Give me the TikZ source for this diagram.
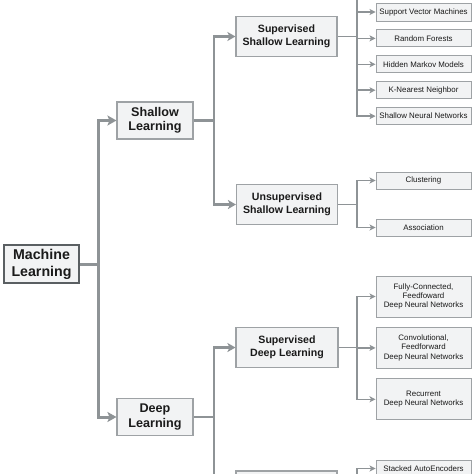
\documentclass[tikz,border=0pt]{standalone}
\usepackage{fontspec}
\setmainfont{Liberation Sans}
\usetikzlibrary{arrows.meta,positioning}
\definecolor{ln}{HTML}{8E9396}
\definecolor{bx}{HTML}{F2F3F4}
\definecolor{bd}{HTML}{9EA2A5}
\definecolor{dk}{HTML}{5A5F62}
\definecolor{tx}{HTML}{1A1A1A}
\tikzset{
  box/.style={draw=bd,line width=1.1pt,fill=bx,align=center,inner sep=0pt,text=tx},
  mbox/.style={box,draw=dk,line width=1.8pt,minimum width=75pt,minimum height=38pt,font=\fontsize{14.2}{17}\selectfont\bfseries},
  cbox/.style={box,minimum width=76pt,minimum height=37pt,font=\fontsize{12.6}{14.5}\selectfont\bfseries},
  sbox/.style={box,minimum width=101pt,minimum height=40pt,font=\fontsize{10.6}{12.8}\selectfont\bfseries},
  leaf/.style={box,line width=0.9pt,minimum width=95pt,minimum height=17pt,font=\fontsize{7.9}{9.3}\selectfont},
  tall/.style={leaf,minimum height=41pt},
  mainar/.style={line width=3pt,draw=ln,-{Stealth[length=9pt,width=10pt,inset=2pt]}},
  subar/.style={line width=2.6pt,draw=ln,-{Stealth[length=8pt,width=9pt,inset=2pt]}},
  leafar/.style={line width=1.6pt,draw=ln,-{Stealth[length=6pt,width=6pt,inset=1.5pt]}},
}

\begin{document}
\begin{tikzpicture}[x=1pt,y=1pt,node distance=8pt]
\useasboundingbox (0,0) rectangle (474,-474);
\clip (0,0) rectangle (474,-474);
\fill[white] (0,0) rectangle (474,-474);
\node[mbox] (ml) at (41.5,-264) {Machine\\Learning};
\node[cbox] (shl) at (155,-120.5) {Shallow\\Learning};
\node[cbox] (dl) at (155,-417) {Deep\\Learning};
\node[sbox] (ssl) at (286.5,-36.5) {Supervised\\Shallow Learning};
\node[sbox] (usl) at (287,-204.5) {Unsupervised\\Shallow Learning};
\node[sbox,minimum width=102pt] (sdl) at (287,-347.5) {Supervised\\Deep Learning};
\node[sbox] (udl) at (286.5,-491) {};
\node[leaf,minimum height=18pt] (svm) at (423.5,-12) {Support Vector Machines};
\node[leaf,below=of svm] (rf) {Random Forests};
\node[leaf,below=of rf] (hmm) {Hidden Markov Models};
\node[leaf,below=of hmm] (knn) {K-Nearest Neighbor};
\node[leaf,below=of knn] (snn) {Shallow Neural Networks};
\node[leaf] (clu) at (423.5,-180.5) {Clustering};
\node[leaf] (asc) at (423.5,-227.5) {Association};
\node[tall] (fc) at (423.5,-296.5) {Fully-Connected,\\Feedfoward\\Deep Neural Networks};
\node[tall,below=9.5pt of fc] (cnn) {Convolutional,\\Feedforward\\Deep Neural Networks};
\node[tall,below=9.5pt of cnn] (rnn) {Recurrent\\Deep Neural Networks};
\node[leaf] (sae) at (423.5,-468.5) {Stacked AutoEncoders};
\coordinate (j0) at (98,-264);
\coordinate (j1) at (214,-120.5);
\coordinate (j2) at (214,-417);
\coordinate (j3) at (357,-36.5);
\coordinate (j4) at (357,-204.5);
\coordinate (j5) at (357,-347.5);
\coordinate (j6) at (357,-491);
\coordinate (top) at (357,4);
\draw[mainar] (ml.east) -- (j0) |- (shl.west);
\draw[mainar] (j0) |- (dl.west);
\draw[subar] (shl.east) -- (j1) |- (ssl.west);
\draw[subar] (j1) |- (usl.west);
\draw[subar] (dl.east) -- (j2) |- (sdl.west);
\draw[subar] (j2) |- (udl.west);
\draw[leafar,-] (ssl.east) -- (j3) -- (top);
\foreach \n in {svm,rf,hmm,knn,snn}
  \draw[leafar] (j3) |- (\n.west);
\draw[leafar,-] (usl.east) -- (j4);
\foreach \n in {clu,asc}
  \draw[leafar] (j4) |- (\n.west);
\draw[leafar,-] (sdl.east) -- (j5);
\foreach \n in {fc,cnn,rnn}
  \draw[leafar] (j5) |- (\n.west);
\draw[leafar] (udl.east) -- (j6) |- (sae.west);
\end{tikzpicture}
\end{document}
